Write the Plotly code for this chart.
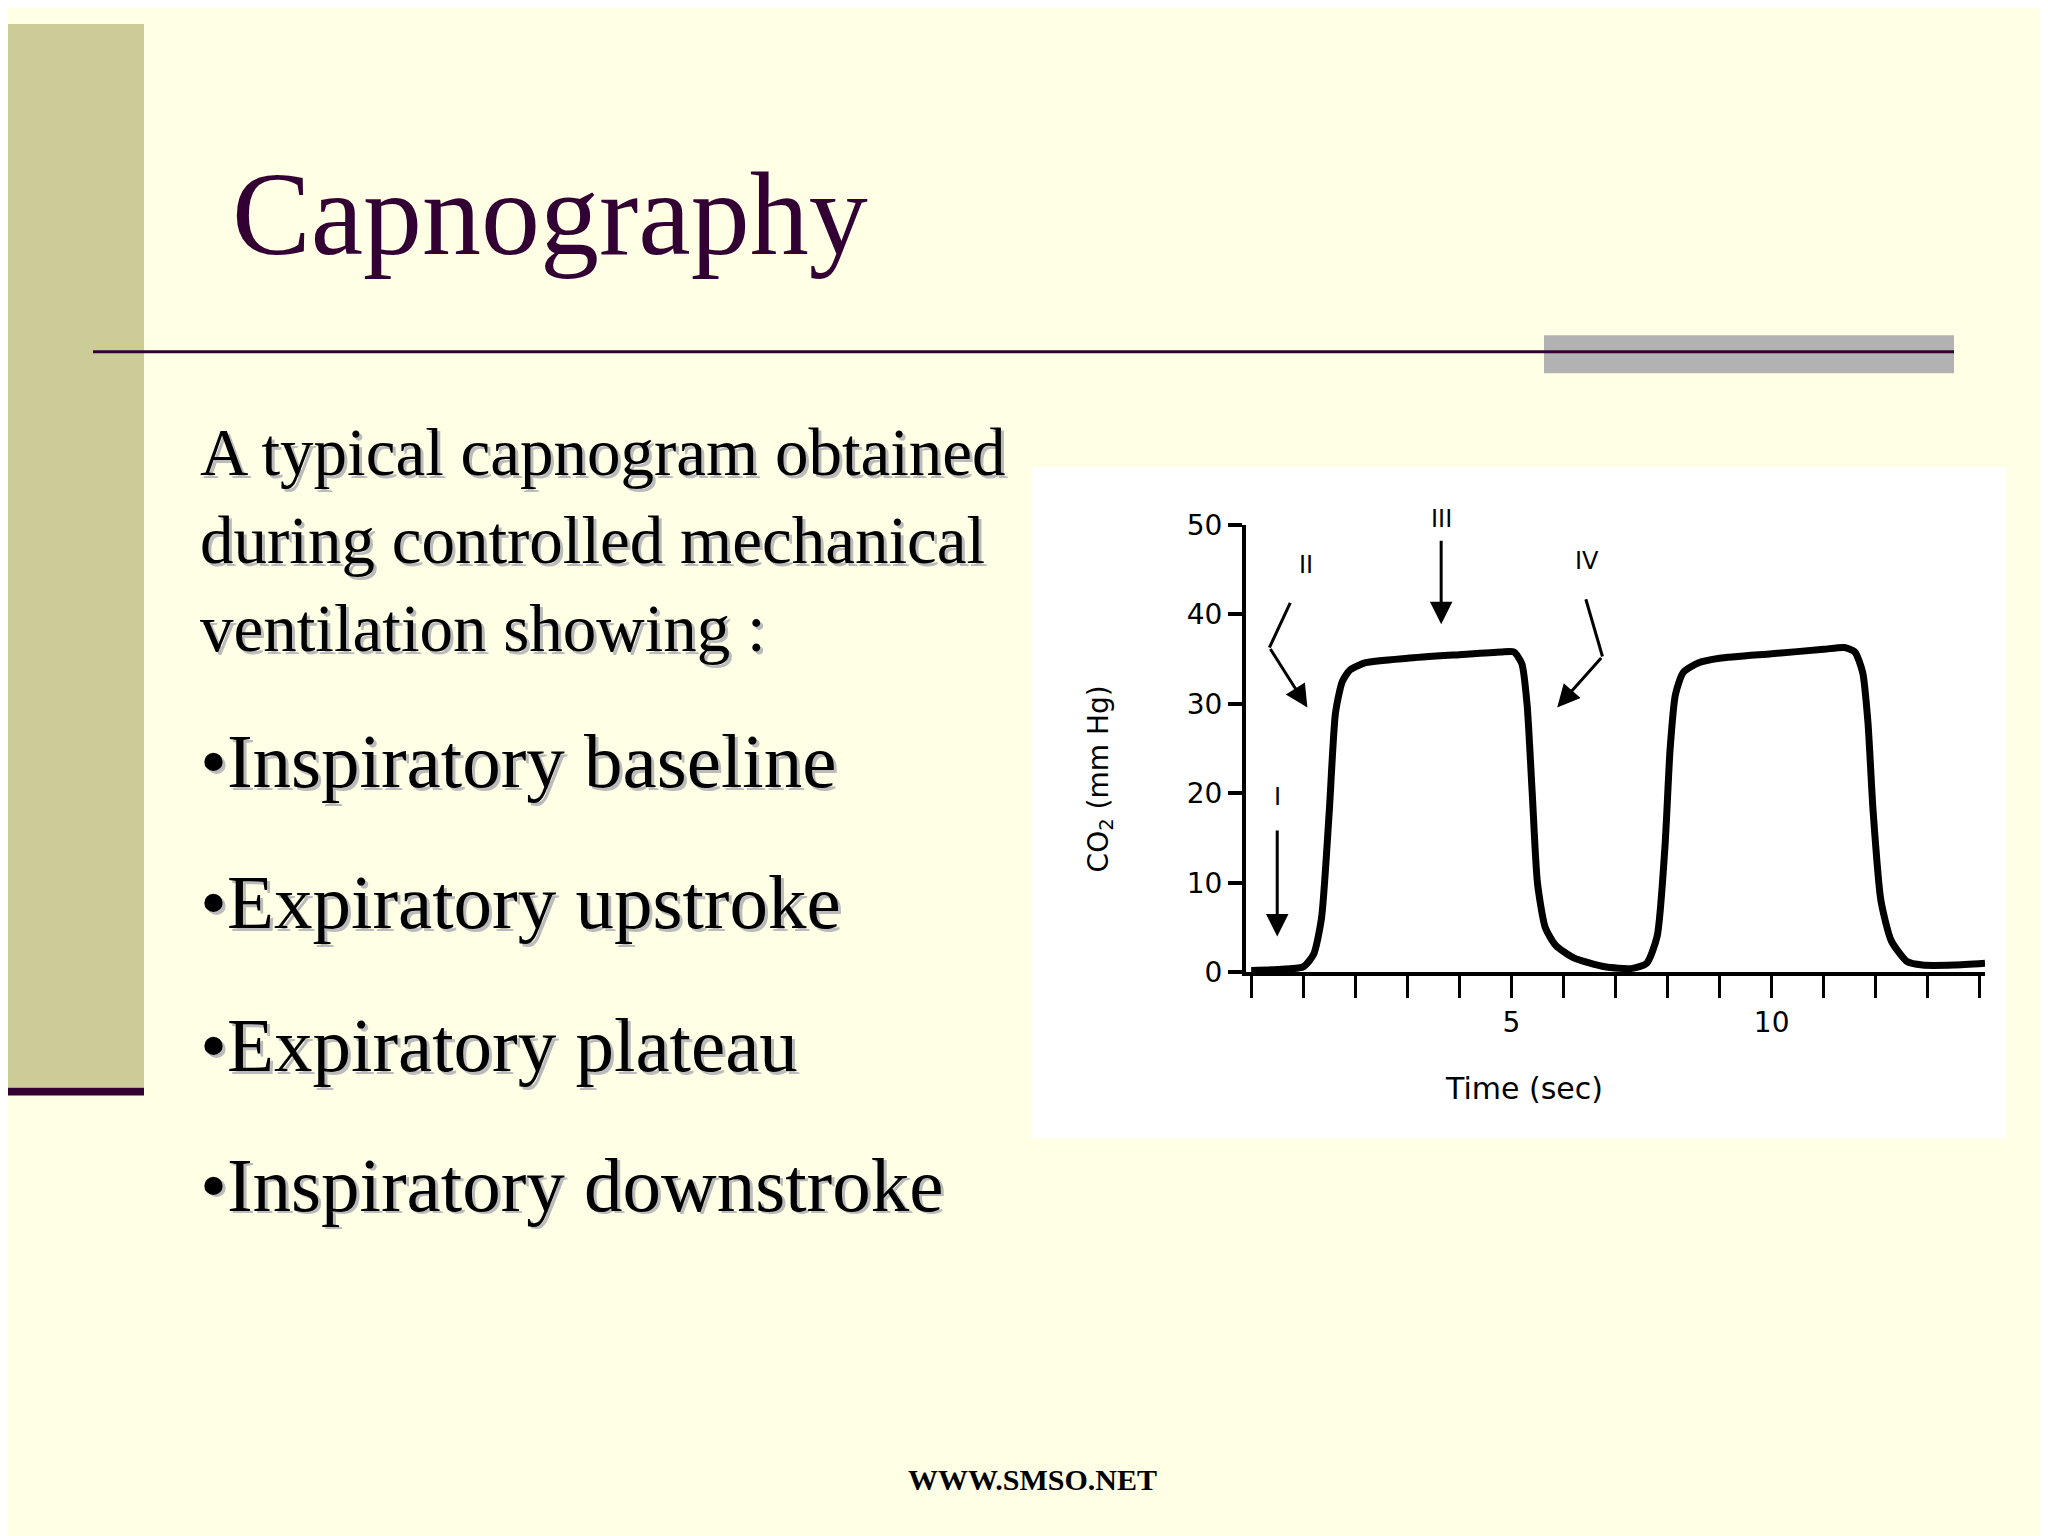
import plotly.graph_objects as go

time_s = [0, 0.5, 1.0, 1.2, 1.35, 1.5, 1.62, 1.75, 1.9, 2.2, 3.0, 4.0, 4.8, 5.05, 5.2, 5.3, 5.4, 5.5, 5.65, 5.85, 6.2, 6.8, 7.3, 7.6, 7.8, 7.95, 8.05, 8.15, 8.3, 8.6, 9.0, 10.0, 11.0, 11.4, 11.6, 11.75, 11.85, 11.95, 12.1, 12.3, 12.6, 12.9, 13.5, 14.1]
co2 = [0.2, 0.3, 0.6, 2.0, 6.0, 18.0, 29.0, 32.5, 33.8, 34.6, 35.1, 35.5, 35.8, 35.8, 34.5, 30.0, 20.0, 10.0, 5.0, 3.0, 1.6, 0.6, 0.4, 1.0, 4.0, 14.0, 25.0, 31.0, 33.5, 34.6, 35.1, 35.6, 36.1, 36.3, 35.8, 33.5, 28.0, 18.0, 8.0, 3.5, 1.2, 0.8, 0.8, 1.0]
y_ticks = [0, 10, 20, 30, 40, 50]
x_ticks = list(range(0, 15))
x_labels = ["" if t not in (5, 10) else str(t) for t in x_ticks]
body_lines = ["A typical capnogram obtained", "during controlled mechanical", "ventilation showing :"]
bullets = ["•Inspiratory baseline", "•Expiratory upstroke", "•Expiratory plateau", "•Inspiratory downstroke"]

W, H = 2048, 1536
def px(x): return x / W
def py(y): return 1 - y / H

fig = go.Figure()
fig.add_trace(go.Scatter(x=time_s, y=co2, mode="lines", line=dict(color="black", width=7, shape="spline", smoothing=0.6),
                         hoverinfo="skip", showlegend=False))

shapes = [
    dict(type="rect", xref="paper", yref="paper", x0=0, x1=px(136), y0=py(1087), y1=1, fillcolor="#CCCC99", line_width=0, layer="below"),
    dict(type="rect", xref="paper", yref="paper", x0=0, x1=px(136), y0=py(1095), y1=py(1087), fillcolor="#330033", line_width=0),
    dict(type="rect", xref="paper", yref="paper", x0=px(1536), x1=px(1946), y0=py(357), y1=py(318), fillcolor="#B2B2B2", line_width=0, layer="below"),
    dict(type="line", xref="paper", yref="paper", x0=px(85), x1=px(1946), y0=py(335), y1=py(335), line=dict(color="#330033", width=3)),
    dict(type="rect", xref="paper", yref="paper", x0=px(1023), x1=px(1998), y0=py(1139), y1=py(453), fillcolor="white", line_width=0, layer="below"),
    dict(type="path", xref="x", yref="y", path="M 0.75 41.3 L 0.35 36.3", line=dict(color="black", width=3)),
    dict(type="path", xref="x", yref="y", path="M 6.43 41.7 L 6.75 35.3", line=dict(color="black", width=3)),
]

ann = []
ann.append(dict(text="Capnography", xref="paper", yref="paper", x=px(222), y=py(195), xanchor="left", yanchor="middle",
                showarrow=False, font=dict(family="Liberation Serif, serif", size=118, color="#330033")))
for i, t in enumerate(body_lines):
    y = [437, 527, 617][i]
    ann.append(dict(text=t, xref="paper", yref="paper", x=px(193), y=py(y + 3), xanchor="left", yanchor="middle", showarrow=False,
                    font=dict(family="Liberation Serif, serif", size=67, color="#BBBBBB")))
    ann.append(dict(text=t, xref="paper", yref="paper", x=px(190), y=py(y), xanchor="left", yanchor="middle", showarrow=False,
                    font=dict(family="Liberation Serif, serif", size=67, color="black")))
for i, t in enumerate(bullets):
    y = [753, 897, 1043, 1186][i]
    ann.append(dict(text=t, xref="paper", yref="paper", x=px(193), y=py(y + 3), xanchor="left", yanchor="middle", showarrow=False,
                    font=dict(family="Liberation Serif, serif", size=77, color="#BBBBBB")))
    ann.append(dict(text=t, xref="paper", yref="paper", x=px(190), y=py(y), xanchor="left", yanchor="middle", showarrow=False,
                    font=dict(family="Liberation Serif, serif", size=77, color="black")))
ann.append(dict(text="<b>WWW.SMSO.NET</b>", xref="paper", yref="paper", x=0.5, y=py(1487), xanchor="center", yanchor="middle",
                showarrow=False, font=dict(family="Liberation Serif, serif", size=30, color="black")))

lab = dict(family="DejaVu Sans, sans-serif", size=24, color="black")
for t, x, y in [("I", 0.5, 19.6), ("II", 1.05, 45.5), ("IV", 6.45, 46.0)]:
    ann.append(dict(text=t, x=x, y=y, xref="x", yref="y", showarrow=False, font=lab))
ann.append(dict(text="III", x=3.65, xref="x", yref="paper", y=py(490), showarrow=False, font=lab))
for (x0, y0, x1, y1) in [(0.5, 16, 0.5, 4), (0.35, 36.3, 1.08, 29.6), (3.65, 48.4, 3.65, 38.9), (6.75, 35.3, 5.88, 29.6)]:
    ann.append(dict(x=x1, y=y1, ax=x0, ay=y0, xref="x", yref="y", axref="x", ayref="y", text="", showarrow=True,
                    arrowhead=2, arrowsize=1.5, arrowwidth=3, arrowcolor="black"))
ann.append(dict(text="CO<sub>2</sub> (mm Hg)", xref="paper", yref="paper", x=px(1092), y=py(772), textangle=-90,
                showarrow=False, font=dict(family="DejaVu Sans, sans-serif", size=28, color="black")))
ann.append(dict(text="Time (sec)", xref="paper", yref="paper", x=px(1597), y=py(1108),
                showarrow=False, font=dict(family="DejaVu Sans, sans-serif", size=30, color="black")))

fig.update_layout(
    width=W, height=H, margin=dict(l=0, r=0, t=0, b=0),
    paper_bgcolor="#FFFFE5", plot_bgcolor="rgba(0,0,0,0)",
    shapes=shapes, annotations=ann,
    xaxis=dict(domain=[px(1238), px(1977)], range=[-0.1, 14.1], tickvals=x_ticks, ticktext=x_labels,
               ticks="outside", ticklen=22, tickwidth=3, tickcolor="black", showline=True, linecolor="black", linewidth=4,
               showgrid=False, zeroline=False, tickfont=dict(family="DejaVu Sans, sans-serif", size=28, color="black")),
    yaxis=dict(domain=[py(969), py(512)], range=[0, 50], tickvals=y_ticks, ticks="outside", ticklen=14, tickwidth=4,
               tickcolor="black", showline=True, linecolor="black", linewidth=4, showgrid=False, zeroline=False,
               tickfont=dict(family="DejaVu Sans, sans-serif", size=28, color="black")),
)
fig.write_html("out.html")
